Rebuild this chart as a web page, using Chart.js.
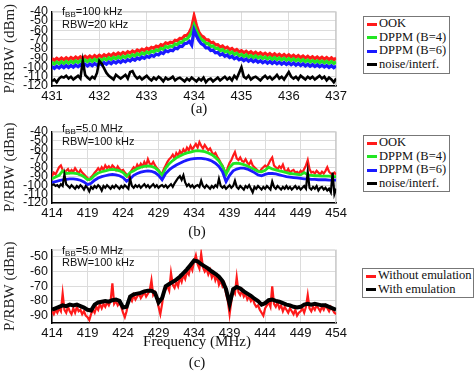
<!DOCTYPE html>
<html>
<head>
<meta charset="utf-8">
<script src="https://cdn.jsdelivr.net/npm/chart.js@4.4.0/dist/chart.umd.min.js"></script>
<style>
body { margin: 0; background: #fff; }
#wrap { position: relative; width: 474px; height: 372px; overflow: hidden; }
canvas { position: absolute; left: 0; }
.note { position: absolute; left: 62px; font: 11px 'Liberation Sans', Arial, sans-serif; color: #111; line-height: 12px; white-space: nowrap; }
.note sub { font-size: 8px; vertical-align: -2px; line-height: 0; }
.cap { position: absolute; font: 15px 'Liberation Serif', serif; color: #111; line-height: 16px; transform: translateX(-50%); white-space: nowrap; }
.legend { position: absolute; border: 1px solid #777; background: #fff; font: 12.5px 'Liberation Serif', serif; color: #111; box-sizing: border-box; }
.legend div { height: 13.6px; line-height: 13.6px; white-space: nowrap; }
.legend span { display: inline-block; width: 10px; height: 3px; margin: 0 2px 0 3px; vertical-align: middle; }
</style>
</head>
<body>
<div id="wrap">
  <canvas id="chartA" width="350" height="104" style="top:0px"></canvas>
  <canvas id="chartB" width="350" height="101" style="top:120px"></canvas>
  <canvas id="chartC" width="350" height="103" style="top:238px"></canvas>

  <div class="note" style="top:5px">f<sub>BB</sub>=100 kHz</div>
  <div class="note" style="top:18px">RBW=20 kHz</div>
  <div class="note" style="top:122px">f<sub>BB</sub>=5.0 MHz</div>
  <div class="note" style="top:135px">RBW=100 kHz</div>
  <div class="note" style="top:244px">f<sub>BB</sub>=5.0 MHz</div>
  <div class="note" style="top:256px">RBW=100 kHz</div>

  <div class="cap" style="left:199px; top:100px">(a)</div>
  <div class="cap" style="left:197px; top:223px">(b)</div>
  <div class="cap" style="left:197px; top:333px">Frequency (MHz)</div>
  <div class="cap" style="left:197px; top:354px">(c)</div>

  <div class="legend" id="legA" style="left:363px; top:16px; width:87px; height:58px"></div>
  <div class="legend" id="legB" style="left:363px; top:135px; width:87px; height:57px"></div>
  <div class="legend" id="legC" style="left:362px; top:268px; width:112px; height:30px"></div>
</div>
<script>
// labels and colours
var labelsAB = ['OOK', 'DPPM (B=4)', 'DPPM (B=6)', 'noise/interf.'];
var colorsAB = ['#ff1a1a', '#22e622', '#1a1aff', '#000000'];
var labelsC = ['Without emulation', 'With emulation'];
var colorsC = ['#ff1a1a', '#000000'];

// axis ticks
var xTicksA = [431, 432, 433, 434, 435, 436, 437];
var xTicksBC = [414, 419, 424, 429, 434, 439, 444, 449, 454];
var yTicksAB = [-120, -110, -100, -90, -80, -70, -60, -50, -40];
var yTicksC = [-90, -80, -70, -60, -50];

// (a) 431..437 MHz, 0.05 MHz grid
var startA = 431, stepA = 0.05;
var ookA = [
  -90.5, -92.4, -90.2, -92.1, -89.9, -91.8, -89.6, -91.5, -89.4, -91.2,
  -89.0, -90.8, -88.6, -90.4, -88.2, -90.0, -87.8, -89.6, -87.4, -89.2,
  -87.0, -88.7, -86.4, -88.1, -85.8, -87.5, -85.2, -86.8, -84.6, -86.2,
  -84.0, -85.5, -83.2, -84.7, -82.3, -83.8, -81.4, -82.8, -80.4, -81.8,
  -79.5, -80.8, -78.5, -79.6, -77.2, -78.2, -75.6, -76.6, -73.6, -74.6,
  -73.0, -73.6, -70.8, -71.4, -68.8, -69.0, -66.0, -65.5, -62.5, -57.0,
  -45.0, -55.0, -62.0, -66.0, -67.5, -70.5, -70.5, -73.5, -73.0, -75.8,
  -75.5, -78.2, -76.9, -79.6, -78.3, -81.0, -79.6, -82.2, -80.8, -83.4,
  -82.0, -84.3, -82.6, -84.9, -83.2, -85.5, -83.7, -86.0, -84.3, -86.5,
  -84.8, -87.0, -85.2, -87.4, -85.5, -87.7, -85.9, -88.0, -86.2, -88.3,
  -86.5, -88.7, -86.9, -89.1, -87.3, -89.5, -87.7, -89.9, -88.1, -90.3,
  -88.5, -90.6, -88.8, -90.9, -89.1, -91.2, -89.4, -91.5, -89.7, -91.8,
  -90.0
];
var dppm4A = [
  -94.5, -96.4, -94.2, -96.1, -93.9, -95.8, -93.6, -95.5, -93.4, -95.2,
  -93.0, -94.8, -92.6, -94.4, -92.2, -94.0, -91.8, -93.6, -91.4, -93.2,
  -91.0, -92.7, -90.4, -92.1, -89.8, -91.5, -89.2, -90.8, -88.6, -90.2,
  -88.0, -89.5, -87.2, -88.7, -86.3, -87.8, -85.4, -86.8, -84.4, -85.8,
  -83.5, -84.8, -82.5, -83.6, -81.2, -82.2, -79.6, -80.6, -77.6, -78.6,
  -77.0, -77.6, -74.8, -75.4, -72.8, -73.0, -70.0, -69.5, -66.5, -62.0,
  -54.5, -61.0, -66.0, -70.0, -71.5, -74.5, -74.5, -77.5, -77.0, -79.8,
  -79.5, -82.2, -80.9, -83.6, -82.3, -85.0, -83.6, -86.2, -84.8, -87.4,
  -86.0, -88.3, -86.6, -88.9, -87.2, -89.5, -87.7, -90.0, -88.3, -90.5,
  -88.8, -91.0, -89.2, -91.4, -89.5, -91.7, -89.9, -92.0, -90.2, -92.3,
  -90.5, -92.7, -90.9, -93.1, -91.3, -93.5, -91.7, -93.9, -92.1, -94.3,
  -92.5, -94.6, -92.8, -94.9, -93.1, -95.2, -93.4, -95.5, -93.7, -95.8,
  -94.0
];
var dppm6A = [
  -99.0, -101.0, -98.8, -100.6, -98.4, -100.3, -98.1, -100.0, -97.9, -99.7,
  -97.5, -99.3, -97.1, -98.9, -96.7, -98.5, -96.3, -98.1, -95.9, -97.7,
  -95.5, -97.2, -94.9, -96.6, -94.3, -96.0, -93.7, -95.3, -93.1, -94.7,
  -92.5, -94.0, -91.7, -93.2, -90.8, -92.3, -89.9, -91.3, -88.9, -90.3,
  -88.0, -89.3, -87.0, -88.1, -85.7, -86.7, -84.1, -85.1, -82.1, -83.1,
  -81.5, -82.1, -79.3, -79.9, -77.3, -77.5, -74.5, -74.0, -72.0, -76.0,
  -60.0, -66.0, -71.0, -74.5, -76.0, -79.0, -79.0, -82.0, -81.5, -84.3,
  -84.0, -86.7, -85.4, -88.1, -86.8, -89.5, -88.1, -90.7, -89.3, -91.9,
  -90.5, -92.8, -91.1, -93.4, -91.7, -94.0, -92.2, -94.5, -92.8, -95.0,
  -93.3, -95.5, -93.7, -95.9, -94.0, -96.2, -94.4, -96.5, -94.7, -96.8,
  -95.0, -97.2, -95.4, -97.6, -95.8, -98.0, -96.2, -98.4, -96.6, -98.8,
  -97.0, -99.1, -97.3, -99.4, -97.6, -99.7, -97.9, -100.0, -98.2, -100.3,
  -98.5
];
var noiseA = [
  -115, -113, -116, -112, -110, -111, -109, -112, -110, -113,
  -111, -109, -112, -93, -108, -111, -113, -110, -112, -106,
  -93, -96, -101, -106, -109, -111, -113, -108, -110, -112,
  -110, -108, -112, -105, -104, -109, -112, -110, -113, -111,
  -109, -112, -114, -111, -113, -110, -112, -115, -111, -113,
  -112, -110, -114, -112, -111, -113, -115, -112, -114, -111,
  -113, -115, -112, -114, -111, -116, -113, -112, -115, -113,
  -111, -114, -112, -110, -113, -111, -114, -109, -112, -106,
  -100, -110, -112, -109, -113, -111, -110, -112, -114, -111,
  -109, -112, -110, -113, -111, -108, -112, -110, -113, -109,
  -105, -110, -112, -110, -113, -109, -111, -113, -110, -112,
  -110, -113, -111, -109, -112, -110, -114, -111, -113, -116,
  -112
];

// (b) 414..454 MHz
var startB = 414;
var ookB = [ // 0.25 MHz grid
  -90, -86, -88, -84,   -80, -78, -83, -86,   -84, -82, -86, -83,   -85, -81, -84, -87,
  -83, -86, -88, -90,   -92, -94, -91, -89,   -86, -84, -81, -84,   -80, -83, -78, -81,
  -79, -82, -78, -80,   -83, -79, -82, -84,   -83, -86, -88, -91,   -86, -83, -80, -82,
  -77, -80, -76, -79,   -74, -78, -71, -76,   -77, -74, -78, -81,   -83, -86, -87, -82,
  -78, -74, -71, -69,   -66, -70, -64, -67,   -62, -65, -60, -63,   -58, -61, -56, -60,
  -57, -54, -58, -52,   -56, -59, -55, -58,   -61, -59, -63, -66,   -64, -68, -71, -75,
  -78, -83, -87, -80,   -75, -72, -67, -63,   -70, -72, -69, -73,   -74, -71, -75, -77,
  -73, -78, -80, -82,   -84, -85, -82, -80,   -78, -80, -76, -72,   -69, -78, -80, -82,
  -79, -81, -77, -83,   -85, -82, -86, -84,   -83, -86, -85, -87,   -84, -86, -82, -78,
  -72, -82, -86, -85,   -87, -84, -86, -88,   -85, -87, -84, -80,   -85, -87, -88, -86,
  -88
];
var dppm4B = [ // 0.5 MHz grid
  -93, -91,   -89, -84,   -87, -86.5, -86.5, -87,   -88.5, -90.5, -94, -93,
  -89, -86.5, -85, -84,   -83, -82.5, -83, -84,     -86, -90,     -86, -84,
  -81.5, -80, -79, -78.5, -79, -80.5, -84, -89,     -81, -76,     -72.5, -69.5,
  -67.5, -65.5, -64, -63, -62, -61.5, -62, -62.5,   -64, -66,     -69, -73,
  -79, -88,   -80, -76,   -75.5, -76, -77, -78.5,   -80.5, -82.5, -84.5, -85,
  -83.5, -80, -82, -83,   -84, -85,   -86, -87,     -87.5, -88,   -88.5, -86,
  -88.5, -89, -89.5, -89.5, -90, -90, -90, -90.5,   -90.5
];
var dppm6B = [ // 0.5 MHz grid
  -97, -96,   -95, -94,   -93.5, -93, -93, -93.5,   -94.5, -96.5, -99.5, -98,
  -94.5, -92, -90.5, -89.5, -88.5, -88, -88.5, -89.5, -91.5, -95.5, -93, -89,
  -87, -85.5, -84.5, -84, -84.5, -86, -89, -94,     -87, -83,     -80, -77.5,
  -75.5, -73.5, -72, -71, -70.3, -70, -70, -70.5,   -71.5, -73,   -75.5, -79,
  -85, -96,   -89, -84,   -82, -81,   -81, -82,     -84, -86,     -88.5, -89.5,
  -88, -87,   -87, -87.5, -88.5, -89.5, -90.5, -91, -91.5, -92,   -92.5, -93,
  -93, -93.5, -93.5, -94, -94, -94,   -94.5, -94.5, -94.5
];
var noiseB = [ // 0.25 MHz grid
  -100, -99, -101, -100,   -102, -99, -101, -88,    -99, -101, -103, -100,   -102, -104, -101, -103,
  -100, -102, -105, -101,  -103, -107, -102, -104,  -101, -103, -100, -102,  -106, -101, -103, -100,
  -102, -104, -101, -103,  -100, -102, -104, -101,  -103, -100, -102, -104,  -93, -101, -103, -100,
  -102, -100, -103, -101,  -99, -102, -100, -103,   -101, -99, -102, -100,   -103, -101, -100, -102,
  -100, -103, -101, -99,   -102, -98, -95, -92,     -90, -94, -89, -97,      -101, -99, -102, -100,
  -103, -101, -100, -102,  -95, -101, -103, -100,   -102, -104, -101, -103,  -100, -102, -93, -101,
  -103, -101, -104, -102,  -100, -103, -101, -95,   -102, -104, -101, -103,  -105, -101, -103, -100,
  -104, -108, -102, -104,  -101, -103, -105, -102,  -104, -101, -103, -105,  -96, -102, -104, -101,
  -103, -105, -102, -104,  -101, -104, -102, -105,  -103, -101, -104, -102,  -105, -103, -101, -104,
  -85, -103, -105, -102,   -104, -101, -106, -103,  -102, -105, -103, -106,  -104, -108, -86, -110,
  -104
];

// (c) 414..454 MHz
var withoutC = [ // 0.25 MHz grid
  -87, -89, -86, -88,   -85, -87, -75, -86,   -88, -84, -87, -89,   -85, -88, -84, -87,
  -86, -89, -87, -90,   -91, -93, -89, -86,   -88, -84, -86, -82,   -85, -82, -84, -81,
  -83, -80, -68, -82,   -80, -83, -81, -84,   -88, -91, -87, -80,   -78, -80, -76, -79,
  -77, -75, -78, -76,   -74, -77, -75, -73,   -66, -76, -74, -77,   -84, -89, -82, -74,
  -72, -70, -73, -61,   -69, -71, -67, -70,   -64, -67, -62, -65,   -60, -62, -56, -59,
  -53, -49, -55, -58,   -48, -57, -60, -58,   -62, -59, -64, -61,   -66, -63, -69, -66,
  -70, -68, -75, -80,   -89, -80, -73, -75,   -64, -74, -76, -73,   -77, -75, -79, -77,
  -80, -78, -82, -84,   -83, -86, -88, -90,   -85, -83, -81, -84,   -70, -82, -84, -81,
  -85, -83, -87, -84,   -86, -88, -85, -87,   -89, -86, -90, -88,   -87, -85, -88, -84,
  -76, -85, -87, -84,   -86, -83, -85, -87,   -84, -86, -83, -85,   -87, -84, -86, -88,
  -89
];
var withC = [ // 0.5 MHz grid
  -86, -85,   -84, -83,   -83.5, -82.5, -83, -82.5, -83.5, -84.5, -86, -86.5,
  -82.5, -81, -80.5, -80, -80.5, -79.5, -79, -80,   -84.5, -84,   -77, -75.5,
  -75, -74.5, -73.5, -73, -73, -74.5, -81, -78,     -70, -68.5,   -67, -65.5,
  -63.5, -61, -58.5, -55.5, -52.5, -53, -55, -56.5, -58, -60,     -61.5, -63.5,
  -66.5, -72, -82, -72,   -70.5, -71.5, -73.5, -75, -76.5, -78.5, -80, -82.5,
  -81.5, -79.5, -79, -80, -80.5, -81.5, -82.5, -83, -84, -84.5,   -84, -82.5,
  -82, -82.5, -82, -82.5, -83, -83, -84, -85,       -86
];

function series(label, start, step, vals, color, width, order) {
  return {
    label: label,
    data: vals.map(function (v, i) { return { x: start + i * step, y: v }; }),
    borderColor: color,
    backgroundColor: color,
    borderWidth: width,
    pointRadius: 0,
    tension: 0,
    order: order
  };
}

// top and right edge of the box
var frame = {
  id: 'frame',
  beforeDatasetsDraw: function (chart) {
    var a = chart.chartArea, c = chart.ctx;
    c.save();
    c.strokeStyle = '#c8c8c8';
    c.lineWidth = 1;
    c.beginPath();
    c.moveTo(a.left, a.top + 0.5);
    c.lineTo(a.right - 0.5, a.top + 0.5);
    c.lineTo(a.right - 0.5, a.bottom);
    c.stroke();
    c.restore();
  }
};

function makePanel(id, xTicks, yTicks, yMin, yMax, sets) {
  return new Chart(document.getElementById(id), {
    type: 'line',
    data: { datasets: sets },
    options: {
      responsive: false,
      animation: false,
      layout: { padding: { top: 5, right: 7, left: 0, bottom: 0 } },
      plugins: { legend: { display: false }, tooltip: { enabled: false } },
      scales: {
        x: {
          type: 'linear',
          min: xTicks[0],
          max: xTicks[xTicks.length - 1],
          afterBuildTicks: function (s) { s.ticks = xTicks.map(function (v) { return { value: v }; }); },
          afterFit: function (s) { s.height = 18; },
          grid: { color: '#dcdcdc', drawTicks: false },
          border: { color: '#000', width: 1.5 },
          ticks: { padding: 3, autoSkip: false, maxRotation: 0, color: '#111', font: { family: 'Liberation Sans', size: 13 } }
        },
        y: {
          type: 'linear',
          min: yMin,
          max: yMax,
          afterBuildTicks: function (s) { s.ticks = yTicks.map(function (v) { return { value: v }; }); },
          afterFit: function (s) { s.width = 52; },
          grid: { color: '#dcdcdc', drawTicks: false },
          border: { color: '#000', width: 1.5 },
          ticks: { padding: 4, autoSkip: false, color: '#111', font: { family: 'Liberation Sans', size: 12.5 } },
          title: { display: true, text: 'P/RBW (dBm)', color: '#222', padding: { top: 1, bottom: 0 }, font: { family: 'Liberation Serif', size: 15 } }
        }
      }
    },
    plugins: [frame]
  });
}

function makeLegend(id, labels, colors) {
  var box = document.getElementById(id);
  labels.forEach(function (t, i) {
    var row = document.createElement('div');
    var sw = document.createElement('span');
    sw.style.background = colors[i];
    row.appendChild(sw);
    row.appendChild(document.createTextNode(t));
    box.appendChild(row);
  });
}

makePanel('chartA', xTicksA, yTicksAB, -120, -40, [
  series(labelsAB[0], startA, stepA, ookA, colorsAB[0], 3.2, 3),
  series(labelsAB[1], startA, stepA, dppm4A, colorsAB[1], 3.2, 2),
  series(labelsAB[2], startA, stepA, dppm6A, colorsAB[2], 3.2, 1),
  series(labelsAB[3], startA, stepA, noiseA, colorsAB[3], 2.6, 0)
]);

makePanel('chartB', xTicksBC, yTicksAB, -120, -40, [
  series(labelsAB[0], startB, 0.25, ookB, colorsAB[0], 2.2, 3),
  series(labelsAB[1], startB, 0.5, dppm4B, colorsAB[1], 2.8, 2),
  series(labelsAB[2], startB, 0.5, dppm6B, colorsAB[2], 2.8, 1),
  series(labelsAB[3], startB, 0.25, noiseB, colorsAB[3], 2.2, 0)
]);

makePanel('chartC', xTicksBC, yTicksC, -95, -45, [
  series(labelsC[0], startB, 0.25, withoutC, colorsC[0], 2.2, 1),
  series(labelsC[1], startB, 0.5, withC, colorsC[1], 4, 0)
]);

makeLegend('legA', labelsAB, colorsAB);
makeLegend('legB', labelsAB, colorsAB);
makeLegend('legC', labelsC, colorsC);
</script>
</body>
</html>
